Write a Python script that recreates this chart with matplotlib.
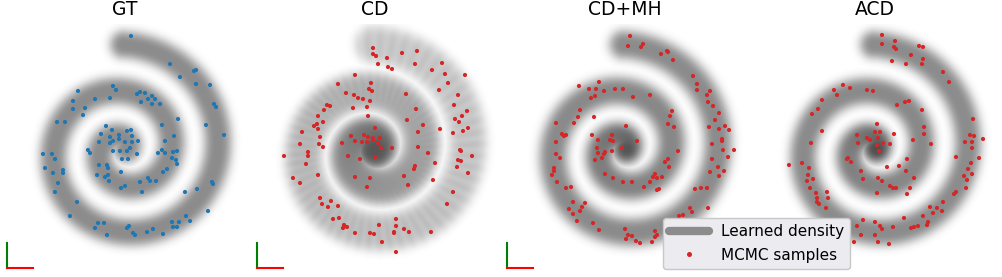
import matplotlib
matplotlib.use("Agg")
import numpy as np
import matplotlib.pyplot as plt
from matplotlib.colors import LinearSegmentedColormap
from matplotlib.lines import Line2D

titles = ["GT", "CD", "CD+MH", "ACD"]

# samples (spiral centre at 0, 0)
gt_x = [0.7, 4.6, 7.2, 7.0, 5.6, 7.2, 8.6, 9.0, 9.2, 8.2, 10.0, -4.6, -5.1, -5.1, -3.9, -4.1, -6.7, -5.9,
        -2.9, -1.4, -1.1, -0.8, 1.3, 1.6, 2.1, 2.8, 2.4, 3.1, 1.7, 2.8, 3.6, 5.4, 3.8, 5.0, -1.8, -1.2, -2.3,
        -0.5, 0.3, 0.7, 0.8,
        -1.4, -1.1, -1.4, -0.5, 0.1, 0.8, 1.4, 0.6, 0.3, 1.3, -1.1, -0.4, -0.2, 0.4, -2.5, -3.6, -3.4, 4.1,
        3.8, 3.4, 4.1, 4.9, 5.3, 4.8, 5.2, 5.3, 4.3, 3.9, -2.5, -1.7, -1.6, -2.7, -1.9, -1.6, -0.3, -1.5,
        -0.3, 0.1, 1.6, 2.4, 2.6, 3.2, 1.8, 6.1, 7.3, 8.8, 8.9, -8.1, -7.2, -6.9, -7.9, -7.1, -6.1, -6.1,
        -6.6, -6.9, -4.7, -5.4, -2.9, -2.6, -2.0, -1.7, 0.3, 0.5, 0.9, 1.1, 2.3, 2.9, 3.9, 4.8, 5.3, 4.9,
        5.5, 6.2, 6.6, 8.4]
gt_y = [11.4, 8.6, 8.0, 7.9, 7.3, 6.6, 6.5, 4.6, 4.3, 2.5, 1.5, 5.9, 4.9, 4.1, 4.2, 3.5, 2.8, 2.8,
        5.1, 5.2, 6.4, 6.0, 5.6, 5.8, 5.7, 5.4, 5.1, 5.1, 4.8, 4.6, 4.6, 3.1, 2.5, 1.4, 2.4, 2.0, 1.6,
        1.5, 1.9, 2.0, 1.4,
        1.3, 0.9, 0.7, 1.1, 0.8, 0.8, 0.9, 0.2, -0.1, -0.4, -0.1, -0.1, -0.9, -0.9, 0.8, 0.0, -0.3, 0.9,
        0.0, -0.3, -0.3, -0.2, -0.1, -0.8, -1.0, -1.4, -1.9, -2.2, -1.5, -1.5, -1.8, -2.5, -2.7, -2.5, -2.2, -3.1,
        -3.8, -3.6, -3.2, -2.8, -3.1, -3.1, -4.2, -4.2, -3.9, -3.2, -3.4, -0.4, -0.4, -0.9, -1.8, -2.3, -2.0, -2.3,
        -3.3, -4.2, -5.2, -6.6, -7.8, -7.3, -7.3, -8.5, -7.8, -7.6, -8.3, -8.5, -8.2, -7.9, -8.4, -7.2, -7.7, -7.7,
        -7.2, -6.6, -7.1, -6.1]

cd_x = [-0.1, -0.1, 0.2, 1.3, 2.8, 4.3, 0.4, 1.4, 1.8, 4.1, 6.8, 5.8, 7.1, 9.1, 7.4, 6.5, 8.4, 8.0, 9.3,
        8.8, 8.1, 8.5, 9.4, 8.9, 7.9, 6.6, 4.9, 4.4, 3.3, 4.2, 3.2, -1.9, -3.6, -2.8, -2.0, -1.6, -1.1, -0.4,
        -0.3, -0.5, -0.2, -2.1, -0.7, -0.6, -4.7, -4.4, -5.0, -5.6, -5.1, -5.7, -6.0, -5.6, -7.2, -5.4, 0.1,
        -2.3, -1.0, -0.6, -0.1, 0.6,
        -1.2, -0.7, -0.1, 0.4, 0.7, -1.9, -3.2, 1.8, 4.4, -7.4, -5.5, -5.1, -6.6, -6.6, -9.0, -6.8, -2.6,
        -1.4, 0.1, 5.4, 6.1, 4.1, 4.0, 8.6, 8.7, 9.8, 8.4, 8.7, 8.3, 9.4, 5.9, 7.9, 7.3, 3.0, 3.4, -0.4,
        -1.9, -0.7, -8.1, -7.4, -5.6, -5.4, -4.3, -5.2, -4.6, -3.6, -4.1, -3.5, -3.0, -3.1, -2.7, -1.9, -0.4,
        0.0, 0.5, 0.8, 2.2, 2.2, 2.0, 2.0, 3.0, 3.5, 5.7, 2.2]
cd_y = [10.2, 9.6, 9.4, 9.2, 9.7, 9.9, 8.6, 8.3, 8.1, 8.6, 8.7, 8.0, 7.6, 7.5, 6.7, 6.0, 5.5, 4.5, 3.9,
        3.4, 3.1, 2.8, 2.2, 1.9, 1.7, 2.1, 2.5, 1.8, 3.0, 4.1, 5.6, 7.5, 6.6, 5.7, 5.5, 5.2, 5.1, 4.9,
        6.7, 6.1, 5.9, 4.2, 4.3, 3.4, 4.5, 4.4, 4.0, 3.4, 2.8, 2.6, 2.4, 2.1, 1.8, 1.3, 2.2,
        1.4, 1.5, 1.3, 1.2, 1.2,
        0.8, 0.8, 1.0, 0.7, 0.2, 0.9, 0.7, 0.2, 0.3, 0.6, 0.6, 0.3, -0.2, -0.6, -0.6, -1.4, -0.6,
        -0.9, -0.7, -0.3, -1.3, -1.6, -1.9, 0.0, -0.1, -0.6, -1.0, -1.1, -1.7, -2.3, -3.0, -4.2, -5.4, -2.6, -3.5, -2.8,
        -2.7, -3.7, -2.8, -3.3, -2.5, -4.8, -5.1, -5.4, -5.7, -5.6, -6.9, -6.8, -7.5, -7.8, -7.7, -8.3, -8.3,
        -8.4, -7.5, -9.2, -6.9, -7.6, -8.2, -8.3, -7.9, -8.2, -8.2, -10.2]

cdmh_x = [0.6, 0.4, 1.9, 1.7, 3.7, 4.3, 4.4, 4.9, 6.9, 7.3, 7.3, 8.6, 8.3, 8.4, 8.9, 9.5, 9.1, 10.1, 9.5,
          8.5, 10.5, 9.8, -2.5, -4.5, -3.5, -2.8, -2.0, -0.9, -0.1, -3.3, -2.9, 0.9, 2.6, -4.4, -4.6, -5.0,
          -6.8, -3.0, 4.8, 4.6, 4.4, 5.0, 0.2, -6.2, -6.0, -5.8, -3.2, -1.2,
          -6.8, -2.6, -1.4, -1.1, 1.3, -2.7, -1.9, -2.0, -1.2, -2.6, -2.2, -2.9, -0.2, -6.8, -6.4, -7.0, -7.0,
          -7.2, -6.7, -5.8, -5.3, -1.9, -1.1, -0.1, 0.8, 2.0, 2.6, 2.9, 3.1, 3.3, 3.8, 3.3, 3.5, 4.1, 4.4,
          4.5, 5.4, 8.8, 9.8, 9.9, 11.0, 8.8, 10.4, 9.4, 10.0, 8.6, 9.5, 7.1, 7.7, 8.3, 8.4, 6.6, 6.8, 5.9,
          5.5, -5.1, -3.9, -4.2, -4.4, -5.5, -5.1, -4.7, -3.1, -2.5, 0.1, 0.4, 0.8, 0.2, 1.2, 1.6, 3.1, 3.3,
          3.1, 2.8]
cdmh_y = [11.4, 10.4, 10.6, 10.3, 9.6, 9.9, 9.8, 9.0, 7.4, 6.6, 6.0, 5.9, 5.5, 4.8, 4.4, 3.7, 3.0, 2.4, 2.1,
          2.3, 2.0, 1.1, 6.8, 6.4, 6.1, 6.1, 5.9, 6.1, 6.1, 5.2, 5.4, 5.3, 5.5, 4.0, 3.3, 2.7,
          2.7, 3.3, 3.9, 3.4, 2.6, 2.3, 2.4, 1.6, 1.4, 1.5, 1.5, 1.5,
          0.8, 1.0, 1.0, 0.9, 0.9, 0.2, -0.2, -0.4, -0.1, -0.3, -0.8, -1.0, 0.2, -0.4, -0.8, -1.8, -2.1,
          -2.5, -3.2, -3.8, -3.7, -2.4, -2.8, -3.2, -3.2, -3.7, -3.2, -2.7, -2.4, -2.8, -2.7, -4.0, -3.9, -1.2, -0.9,
          -1.7, -0.1, 0.6, 0.9, 0.0, 0.0, -0.9, -0.7, -1.7, -2.1, -2.2, -2.6, -3.9, -3.8, -3.8, -5.8, -5.8, -6.2, -6.5,
          -6.6, -5.2, -5.3, -5.7, -6.1, -5.9, -6.4, -7.1, -7.3, -8.0, -7.9, -8.5, -8.6, -8.9, -9.1, -9.3, -8.1, -8.5,
          -8.7, -9.2]

acd_x = [0.8, 0.8, 2.1, 2.0, 2.2, 4.5, 4.9, 3.7, 4.9, 4.8, 3.2, 1.8, 6.9, 7.5, 9.9, 9.6, 10.0, 10.9, -3.1,
         -4.0, -3.7, -2.4, -0.7, -0.1, -5.2, -5.6, -6.2, -5.2, 2.3, 3.1, 3.5, 4.8, 0.3, 5.0, 5.0, 2.0, 0.1,
         0.6, -1.7, -0.7, 0.4, 3.9,
         -0.4, -1.6, 0.3, 0.9, 1.6, 0.5, 5.7, -6.3, -8.5, -7.2, -6.5, -6.6, -6.1, -6.7, -6.4, -5.8, -5.7,
         -5.7, -5.5, -4.7, -4.6, -4.8, -2.6, -2.3, -2.7, -1.3, -1.1, 0.4, 0.8, 1.3, 2.5, 3.2, 3.3, 4.0, 1.6,
         1.9, 2.2, 0.3, 3.6, 3.3, 8.2, 10.5, 9.7, 9.4, 9.0, 9.3, 9.8, 9.2, 8.2, 8.0, 6.9, 6.3, 5.6, 5.9, 6.8,
         4.9, 5.4, 5.3, 3.0, 4.4, 4.0, 3.7, 1.9, 0.8, 0.6, 0.1, 0.1, -1.1, -1.7, -1.3, -2.0, 0.4, 1.5, 9.1,
         9.8, 9.8]
acd_y = [11.5, 10.6, 10.9, 10.3, 10.1, 10.4, 10.3, 9.5, 9.1, 8.6, 8.6, 8.9, 7.8, 6.8, 3.1, 1.5, 1.4, 1.1, 6.5,
         6.0, 5.5, 6.2, 6.0, 5.9, 5.0, 4.1, 3.6, 1.9, 4.5, 4.8, 4.9, 4.0, 2.6, 2.3, 1.6, 1.6, 1.8,
         1.8, 1.5, 1.2, 1.2, 1.0,
         1.0, 0.7, 0.5, 0.7, 0.6, -0.1, 0.6, 0.7, -1.5, -1.3, -1.8, -2.5, -2.9, -3.1, -3.8, -4.3, -4.8,
         -5.2, -5.4, -4.2, -4.8, -5.8, -0.8, -1.2, -0.9, -2.1, -2.9, -2.8, -3.1, -1.7, -1.6, -2.1, -0.9, -2.8, -3.6,
         -3.8, -3.8, -4.3, -3.8, -4.4, -0.7, -0.8, -1.3, -1.9, -2.6, -3.0, -2.4, -3.8, -4.2, -4.4, -5.2, -5.8, -5.7, -6.3, -6.1,
         -6.6, -7.2, -7.5, -6.8, -7.6, -7.7, -7.8, -7.7, -7.9, -7.6, -7.2, -8.5, -7.0, -7.6, -8.5, -9.2, -9.2, -9.4, 0.8,
         0.8, 0.2]

samples = [(gt_x, gt_y), (cd_x, cd_y), (cdmh_x, cdmh_y), (acd_x, acd_y)]
sample_colors = ["tab:blue", "tab:red", "tab:red", "tab:red"]

# spiral r = rate * t, shared by all the learned densities
spiral_rate = 0.748
xlim = (-12.4, 12.6)
ylim = (-12.7, 12.6)
grid_x = np.linspace(xlim[0], xlim[1], 250)
grid_y = np.linspace(ylim[0], ylim[1], 253)


def spiral_band(t, sigma, weight, power=2.0):
    sx = spiral_rate * t * np.cos(t)
    sy = spiral_rate * t * np.sin(t)
    out = np.zeros((len(grid_y), len(grid_x)))
    step = 16
    for r0 in range(0, len(grid_y), step):
        yy = grid_y[r0:r0 + step][:, None, None]
        xx = grid_x[None, :, None]
        d = np.sqrt((xx - sx) ** 2 + (yy - sy) ** 2)
        out[r0:r0 + step] = (weight * np.exp(-0.5 * (d / sigma) ** power)).max(axis=-1)
    return out


t = np.linspace(0.4, 4.5 * np.pi, 900)
t_cd = np.linspace(0.2, 4.5 * np.pi, 950)

# CD density has a ribbed look on its outer turns
gx, gy = np.meshgrid(grid_x, grid_y)
rib_strength = 0.12 * np.clip((np.hypot(gx, gy) - 4) / 5, 0, 1)
ribs = 1 - rib_strength * (1 + np.cos(56 * np.arctan2(gy, gx))) / 2

densities = [
    spiral_band(t, 1.15, 0.55, power=3),
    spiral_band(t_cd, 1.65, 0.2 + 0.62 * np.exp(-t_cd / 7), power=4) * ribs,
    spiral_band(t, 1.2, 0.55 + 0.3 * np.exp(-t / 2.5), power=3),
    spiral_band(t, 1.15, 0.55 + 0.35 * np.exp(-t / 2.0), power=3),
]

cmap = LinearSegmentedColormap.from_list("density", ["white", "#2e2e2e"])

fig = plt.figure(figsize=(10.02, 2.77), dpi=100)

for i, title in enumerate(titles):
    ax = fig.add_axes([250 * i / 1002, 0, 250 / 1002, 253 / 277])
    ax.imshow(densities[i], cmap=cmap, vmin=0, vmax=1, origin="lower",
              extent=(xlim[0], xlim[1], ylim[0], ylim[1]), interpolation="bilinear", aspect="auto")
    sx, sy = samples[i]
    ax.scatter(sx, sy, s=9, color=sample_colors[i], edgecolors="none", zorder=3)
    ax.set_xlim(xlim)
    ax.set_ylim(ylim)
    ax.set_title(title, fontsize=13.5, pad=6.5)
    ax.axis("off")
    # small frame axes in the corner
    ax.plot([0.028, 0.028], [0.036, 0.134], color="green", lw=1.5, transform=ax.transAxes, clip_on=False)
    ax.plot([0.028, 0.132], [0.036, 0.036], color="red", lw=1.5, transform=ax.transAxes, clip_on=False)

handles = [
    Line2D([], [], color="#8c8c8c", lw=6, solid_capstyle="round"),
    Line2D([], [], color="tab:red", marker="o", markersize=2.6, linestyle="none"),
]
leg = fig.legend(handles, ["Learned density", "MCMC samples"], loc="upper left",
                 bbox_to_anchor=(663 / 1002, 1 - 218 / 277), borderaxespad=0, fontsize=11,
                 handlelength=2.6, labelspacing=0.55, fancybox=True,
                 facecolor="#ebebf0", edgecolor="#c8c8c8", framealpha=1.0)

fig.savefig("out.png", dpi=100, facecolor="white")
